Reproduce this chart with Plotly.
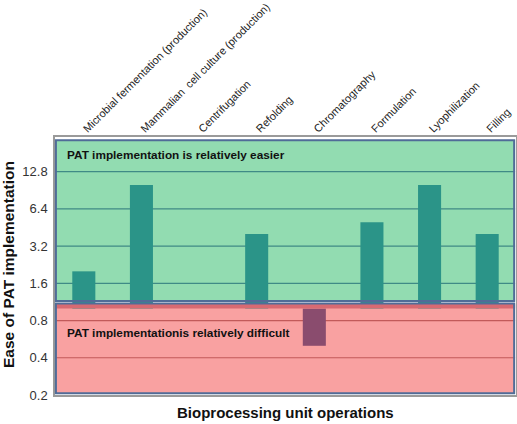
import math
import plotly.graph_objects as go

categories = ["Microbial fermentation (production)", "Mammalian  cell culture (production)",
              "Centrifugation", "Refolding", "Chromatography", "Formulation",
              "Lyophilization", "Filling"]
ease_values = [2.0, 10.0, None, 4.0, 0.5, 5.0, 10.0, 4.0]
y_tick_vals = [0.2, 0.4, 0.8, 1.6, 3.2, 6.4, 12.8]
y_tick_text = ["0.2", "0.4", "0.8", "1.6", "3.2", "6.4", "12.8"]

BASE = 1.0
TEAL = "#2b9488"
PURPLE = "#8a4c6e"
GREEN_BG = "#92dcb1"
RED_BG = "#f9a1a1"
BORDER = "#506c98"
GRID_GREEN = "#3f8a86"
GRID_RED = "#c25a5a"
FONT = "Liberation Sans, Arial, sans-serif"

W, H = 517, 424
ML, MT, MR, MB = 55, 137, 1, 29
PW, PH = W - ML - MR, H - MT - MB


def px_x(page_x):
    return (page_x - ML) / PW


def px_y(page_y):
    return (H - MB - page_y) / PH


bar_y = [None if v is None else v - BASE for v in ease_values]
bar_colors = [PURPLE if (v is not None and v < BASE) else TEAL for v in ease_values]

fig = go.Figure()
fig.add_trace(go.Bar(
    x=categories, y=bar_y, base=BASE, width=0.4,
    marker=dict(color=bar_colors, line=dict(width=0)),
    hoverinfo="skip", showlegend=False,
))

Y_TOP = 24.4
GREEN_LO, GREEN_HI = 1.15, 23.0
RED_LO, RED_HI = 0.207, 1.1

shapes = [
    dict(type="rect", xref="paper", yref="y", x0=0.0, x1=0.998, y0=GREEN_LO, y1=GREEN_HI,
         fillcolor=GREEN_BG, line=dict(width=0), layer="below"),
    dict(type="rect", xref="paper", yref="y", x0=0.0, x1=0.998, y0=RED_LO, y1=RED_HI,
         fillcolor=RED_BG, line=dict(width=0), layer="below"),
]
for v in y_tick_vals:
    if GREEN_LO < v < GREEN_HI:
        shapes.append(dict(type="line", xref="paper", yref="y", x0=0, x1=0.998, y0=v, y1=v,
                           line=dict(color=GRID_GREEN, width=1.2), layer="below"))
    elif RED_LO < v < RED_HI:
        shapes.append(dict(type="line", xref="paper", yref="y", x0=0, x1=0.998, y0=v, y1=v,
                           line=dict(color=GRID_RED, width=1.2), layer="below"))
shapes.append(dict(type="rect", xref="paper", yref="y", x0=0.0, x1=0.998, y0=BASE, y1=RED_HI,
                   fillcolor="#d86a72", line=dict(width=0), layer="above"))
shapes.append(dict(type="rect", xref="paper", yref="y", x0=0.002, x1=0.996, y0=GREEN_LO, y1=GREEN_HI,
                   fillcolor="rgba(0,0,0,0)", line=dict(color=BORDER, width=2), layer="above"))
shapes.append(dict(type="rect", xref="paper", yref="y", x0=0.002, x1=0.996, y0=RED_LO, y1=RED_HI,
                   fillcolor="rgba(0,0,0,0)", line=dict(color=BORDER, width=2), layer="above"))

annotations = [
    dict(text="<b>PAT implementation is relatively easier</b>", xref="paper", yref="paper",
         x=px_x(65), y=px_y(155), xanchor="left", yanchor="middle",
         showarrow=False, font=dict(family=FONT, size=11.8, color="#111")),
    dict(text="<b>PAT implementationis relatively difficult</b>", xref="paper", yref="paper",
         x=px_x(65), y=px_y(333), xanchor="left", yanchor="middle",
         showarrow=False, font=dict(family=FONT, size=11.8, color="#111")),
    dict(text="<b>Bioprocessing unit operations</b>", xref="paper", yref="paper",
         x=0.5, y=px_y(412), xanchor="center", yanchor="middle",
         showarrow=False, font=dict(family=FONT, size=15, color="#111")),
    dict(text="<b>Ease of PAT implementation</b>", xref="paper", yref="paper",
         x=px_x(8), y=px_y(265), xanchor="center", yanchor="middle", textangle=-90,
         showarrow=False, font=dict(family=FONT, size=15.5, color="#111")),
]

fig.update_layout(
    width=W, height=H,
    margin=dict(l=ML, r=MR, t=MT, b=MB, autoexpand=False),
    paper_bgcolor="white", plot_bgcolor="white",
    shapes=shapes, annotations=annotations,
    xaxis=dict(type="category", categoryorder="array", categoryarray=categories,
               range=[-0.5, len(categories) - 0.5], side="top", tickangle=-45, automargin=False,
               showgrid=False, zeroline=False, showline=True, linecolor="#9a9a9a", linewidth=1.5,
               mirror=True, ticks="", ticklabelstandoff=-4,
               tickfont=dict(family=FONT, size=11, color="#222")),
    yaxis=dict(type="log", range=[math.log10(0.2), math.log10(Y_TOP)], automargin=False,
               tickvals=y_tick_vals, ticktext=y_tick_text, showgrid=False, zeroline=False,
               showline=True, linecolor="#9a9a9a", linewidth=1.5, mirror=True, ticks="",
               ticklabelstandoff=3,
               tickfont=dict(family=FONT, size=13, color="#333")),
)

# remove the browser's default 8px body margin so the figure fills the window exactly
fig.write_html("out.html", config={"displayModeBar": False},
               post_script="document.body.style.margin='0px';")
